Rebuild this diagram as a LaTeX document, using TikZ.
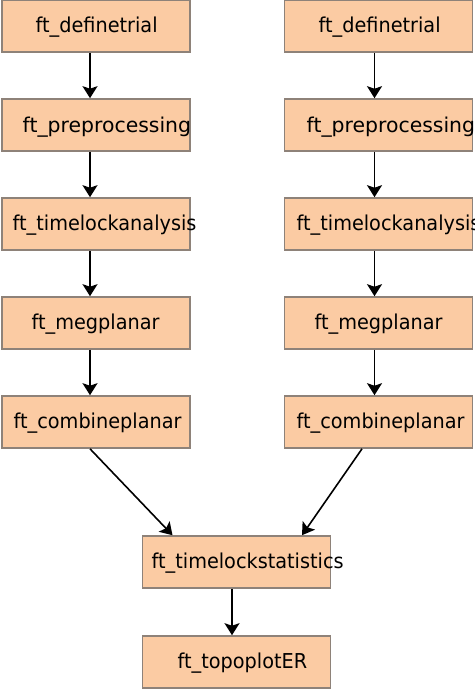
\documentclass[tikz,border=0pt]{standalone}
\usepackage{fontspec}
\setmainfont{DejaVu Sans}
\newfontfamily\stagefont[FakeStretch=0.94]{DejaVu Sans}
\usetikzlibrary{arrows.meta}

\definecolor{boxfill}{RGB}{251,203,163}
\definecolor{boxline}{RGB}{142,130,121}

\tikzset{
  stagebox/.style={draw=boxline, fill=boxfill, line width=1.6pt, minimum width=188pt, minimum height=52pt, inner sep=0pt},
  stagetext/.style={anchor=base west, inner sep=0pt, font=\stagefont\fontsize{20.5}{24}\selectfont},
  widetext/.style={anchor=base west, inner sep=0pt, font=\fontsize{20.4}{24}\selectfont},
  flow/.style={black, line width=1.6pt, -{Stealth[length=12pt, width=15pt, inset=2.5pt]}}
}

\begin{document}
\begin{tikzpicture}[x=1pt, y=-1pt]
\useasboundingbox (0,0) rectangle (474,690);

\node[stagebox] (L1) at (96,26) {};
\node[stagebox] (L2) at (96,125) {};
\node[stagebox] (L3) at (96,224) {};
\node[stagebox] (L4) at (96,323) {};
\node[stagebox] (L5) at (96,422) {};

\node[stagebox] (R1) at (378.5,26) {};
\node[stagebox] (R2) at (378.5,125) {};
\node[stagebox] (R3) at (378.5,224) {};
\node[stagebox] (R4) at (378.5,323) {};
\node[stagebox] (R5) at (378.5,422) {};

\node[stagebox] (stats) at (236.5,562) {};
\node[stagebox] (topo) at (236.5,662) {};

\node[stagetext] (L1t) at (35.5,33) {ft\_definetrial};
\node[widetext] (L2t) at (22.5,132) {ft\_preprocessing};
\node[stagetext] (L3t) at (12.5,230) {ft\_timelockanalysis};
\node[stagetext] (L4t) at (31.5,329) {ft\_megplanar};
\node[stagetext] (L5t) at (13.5,428) {ft\_combineplanar};

\node[stagetext] (R1t) at (318.5,33) {ft\_definetrial};
\node[widetext] (R2t) at (306.5,132) {ft\_preprocessing};
\node[stagetext] (R3t) at (296.5,230) {ft\_timelockanalysis};
\node[stagetext] (R4t) at (314.5,329) {ft\_megplanar};
\node[stagetext] (R5t) at (296.5,428) {ft\_combineplanar};

\node[stagetext] (statst) at (151.5,568) {ft\_timelockstatistics};
\node[stagetext] (topot) at (177.5,668) {ft\_topoplotER};

\draw[flow] ([xshift=-6pt]L1.south) -- ([xshift=-6pt]L2.north);
\draw[flow] ([xshift=-6pt]L2.south) -- ([xshift=-6pt]L3.north);
\draw[flow] ([xshift=-6pt]L3.south) -- ([xshift=-6pt]L4.north);
\draw[flow] ([xshift=-6pt]L4.south) -- ([xshift=-6pt]L5.north);

\draw[flow] ([xshift=-4pt]R1.south) -- ([xshift=-4pt]R2.north);
\draw[flow] ([xshift=-4pt]R2.south) -- ([xshift=-4pt]R3.north);
\draw[flow] ([xshift=-4pt]R3.south) -- ([xshift=-4pt]R4.north);
\draw[flow] ([xshift=-4pt]R4.south) -- ([xshift=-4pt]R5.north);

\draw[flow] ([xshift=-6pt]L5.south) -- ([xshift=-64pt]stats.north);
\draw[flow] ([xshift=-16.5pt]R5.south) -- ([xshift=65.5pt]stats.north);
\draw[flow] ([xshift=-4.5pt]stats.south) -- ([xshift=-4.5pt]topo.north);

\end{tikzpicture}
\end{document}
